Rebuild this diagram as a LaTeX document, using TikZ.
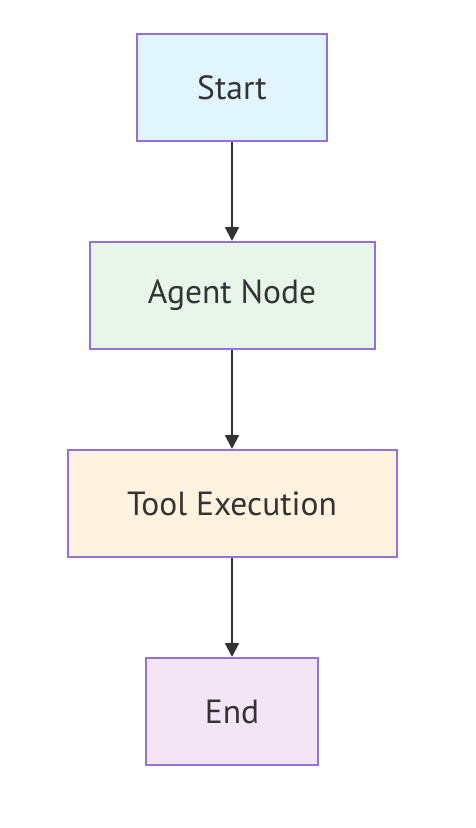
\documentclass[tikz,border=0pt]{standalone}
\usepackage{fontspec}
\setmainfont{PT Sans}
\usetikzlibrary{arrows.meta}
\definecolor{bordc}{HTML}{9370DB}
\definecolor{txtc}{HTML}{333333}
\definecolor{cstart}{HTML}{E1F5FE}
\definecolor{cagent}{HTML}{E8F5E9}
\definecolor{ctool}{HTML}{FFF3E0}
\definecolor{cend}{HTML}{F3E5F5}
\tikzset{
  box/.style={draw=bordc, line width=2pt, text=txtc, inner sep=0pt, minimum height=107pt,
    font=\fontsize{33.5}{40}\selectfont},
  conn/.style={draw=txtc, line width=2pt, -{Triangle[length=14pt,width=14pt]}}
}
\begin{document}
\begin{tikzpicture}[x=1pt,y=-1pt]
\useasboundingbox (0,0) rectangle (476,828);
\node[box, fill=cstart, minimum width=190pt] (start) at (232,87.5) {Start};
\node[box, fill=cagent, minimum width=285pt] (agent) at (232,295.5) {Agent Node};
\node[box, fill=ctool, minimum width=329pt] (tool) at (232,503.5) {Tool Execution};
\node[box, fill=cend, minimum width=172pt] (end) at (232,711.5) {End};
\draw[conn] (start) -- (agent);
\draw[conn] (agent) -- (tool);
\draw[conn] (tool) -- (end);
\end{tikzpicture}
\end{document}
